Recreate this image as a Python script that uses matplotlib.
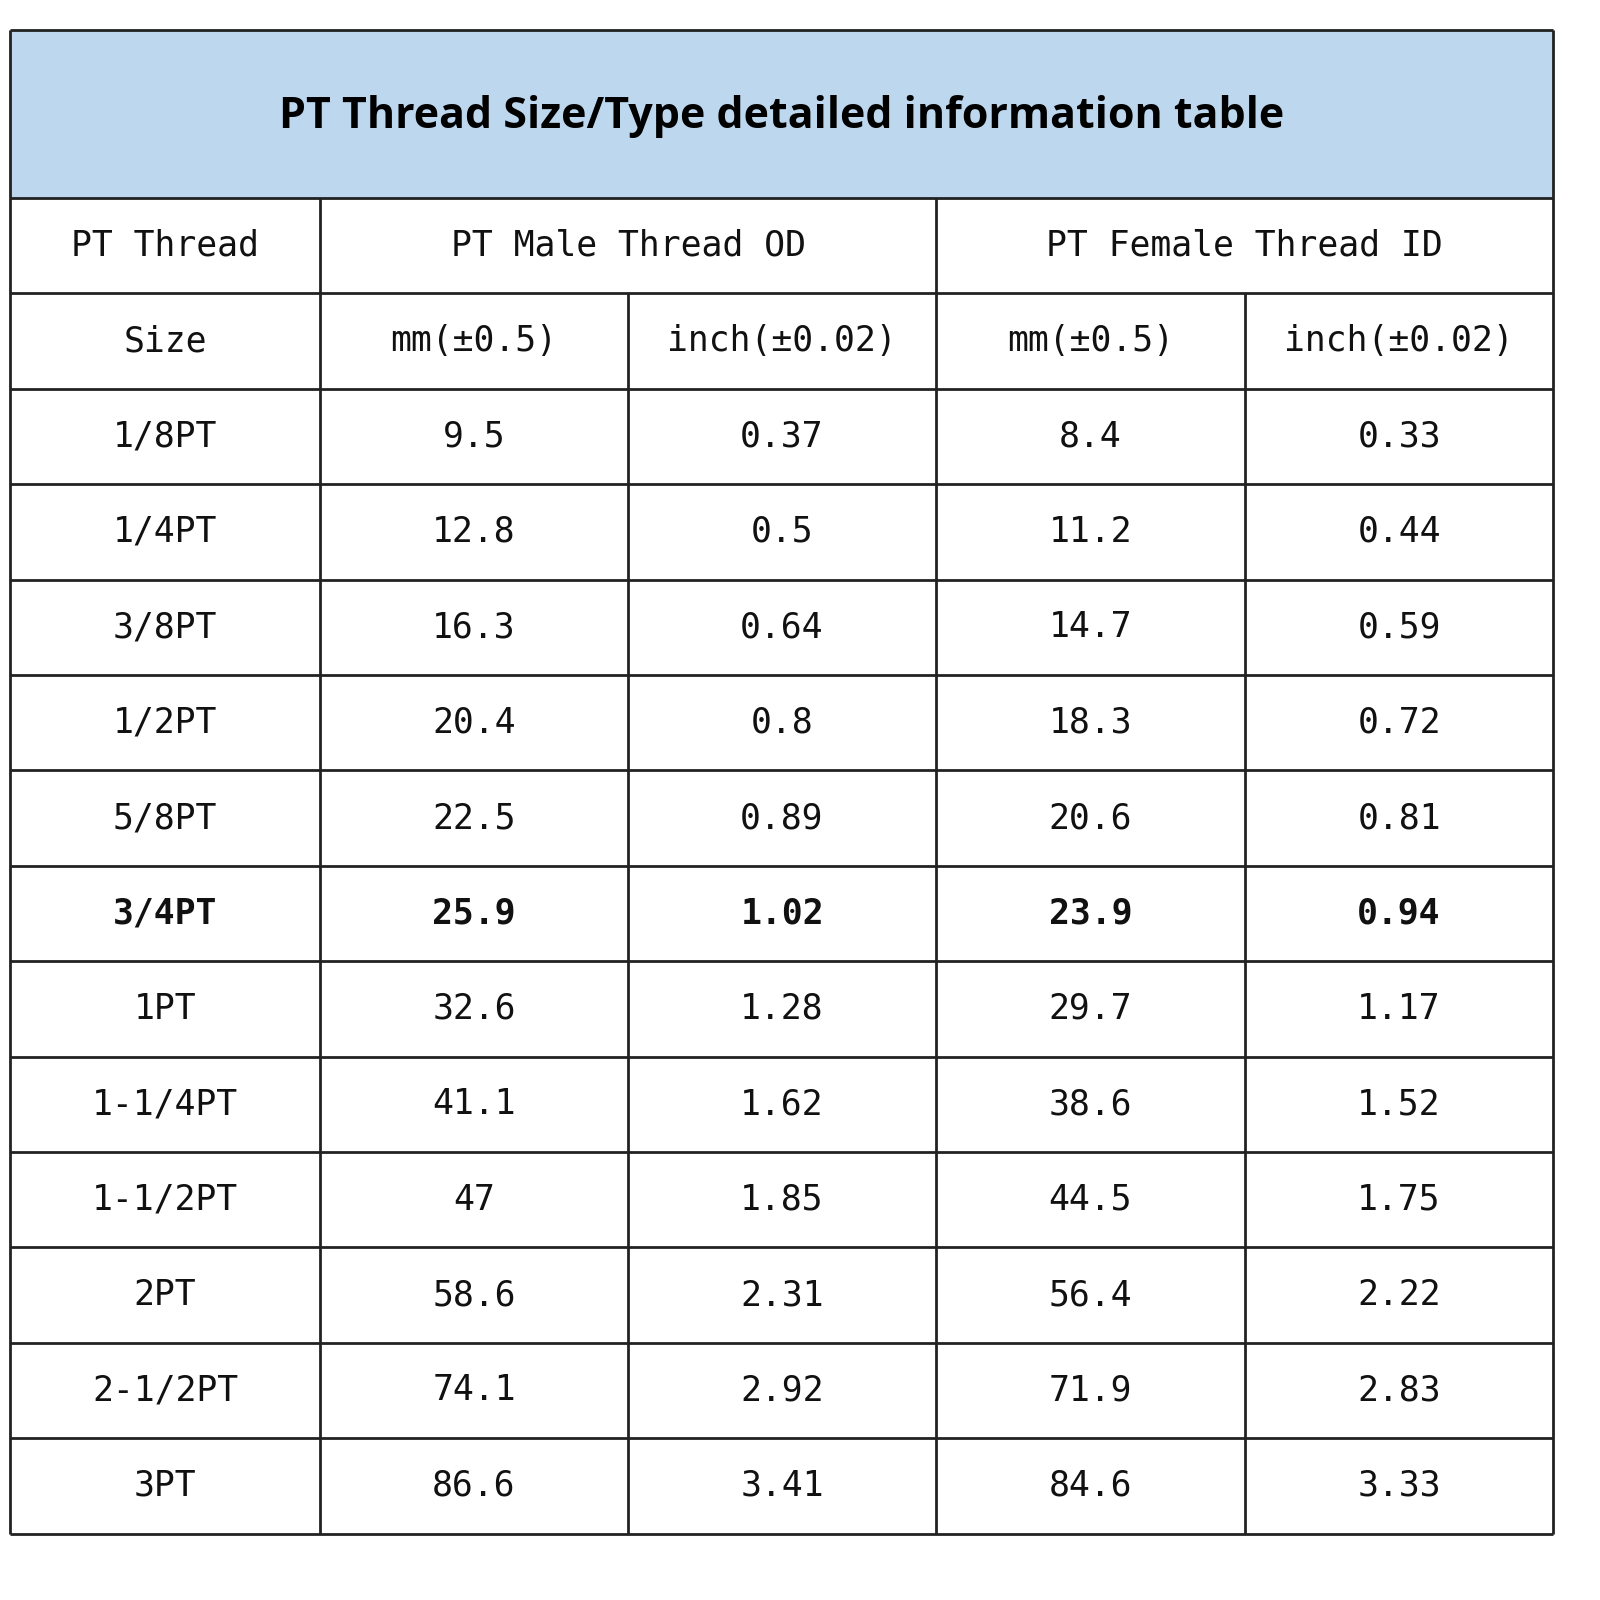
import matplotlib.pyplot as plt

title = "PT Thread Size/Type detailed information table"
header1 = ["PT Thread", "PT Male Thread OD", "PT Female Thread ID"]
header2 = ["Size", "mm(±0.5)", "inch(±0.02)", "mm(±0.5)", "inch(±0.02)"]
sizes = ["1/8PT", "1/4PT", "3/8PT", "1/2PT", "5/8PT", "3/4PT", "1PT",
         "1-1/4PT", "1-1/2PT", "2PT", "2-1/2PT", "3PT"]
male_mm = ["9.5", "12.8", "16.3", "20.4", "22.5", "25.9", "32.6", "41.1", "47", "58.6", "74.1", "86.6"]
male_in = ["0.37", "0.5", "0.64", "0.8", "0.89", "1.02", "1.28", "1.62", "1.85", "2.31", "2.92", "3.41"]
female_mm = ["8.4", "11.2", "14.7", "18.3", "20.6", "23.9", "29.7", "38.6", "44.5", "56.4", "71.9", "84.6"]
female_in = ["0.33", "0.44", "0.59", "0.72", "0.81", "0.94", "1.17", "1.52", "1.75", "2.22", "2.83", "3.33"]
bold_row = "3/4PT"

fig = plt.figure(figsize=(16, 16), dpi=100)
ax = fig.add_axes([0, 0, 1, 1])
ax.set_xlim(0, 1600)
ax.set_ylim(1600, 0)
ax.axis("off")

col_x = [10, 320, 628, 936, 1245, 1553]
top, title_bot = 30, 198
row_h = 95.4
rows_y = [title_bot + i * row_h for i in range(15)]
bottom = rows_y[-1]
lc = "#222222"
lw = 2

# title band
ax.fill_between([col_x[0], col_x[-1]], top, title_bot, color="#BDD7EE", zorder=0)
ax.text(sum(col_x[::5]) / 2, (top + title_bot) / 2 + 3, title, ha="center", va="center",
        fontsize=31, fontweight="bold", family="Open Sans")

# grid lines
ax.hlines([top] + rows_y, col_x[0], col_x[-1], color=lc, lw=lw)
ax.vlines([col_x[0], col_x[-1]], top, bottom, color=lc, lw=lw)
ax.vlines([col_x[1], col_x[3]], title_bot, bottom, color=lc, lw=lw)
ax.vlines([col_x[2], col_x[4]], rows_y[1], bottom, color=lc, lw=lw)

mono = "DejaVu Sans Mono"
fs = 25
centers = [(col_x[i] + col_x[i + 1]) / 2 for i in range(5)]

def cell(x, y, s, bold=False):
    ax.text(x, y, s, ha="center", va="center", fontsize=fs, family=mono,
            fontweight="bold" if bold else "normal", color="#111111")

y0 = (rows_y[0] + rows_y[1]) / 2
cell(centers[0], y0, header1[0])
cell((col_x[1] + col_x[3]) / 2, y0, header1[1])
cell((col_x[3] + col_x[5]) / 2, y0, header1[2])

y1 = (rows_y[1] + rows_y[2]) / 2
for c, s in zip(centers, header2):
    cell(c, y1, s)

for i, size in enumerate(sizes):
    y = (rows_y[i + 2] + rows_y[i + 3]) / 2
    b = size == bold_row
    for c, s in zip(centers, [size, male_mm[i], male_in[i], female_mm[i], female_in[i]]):
        cell(c, y, s, b)

fig.savefig("out.png", dpi=100, facecolor="white")
